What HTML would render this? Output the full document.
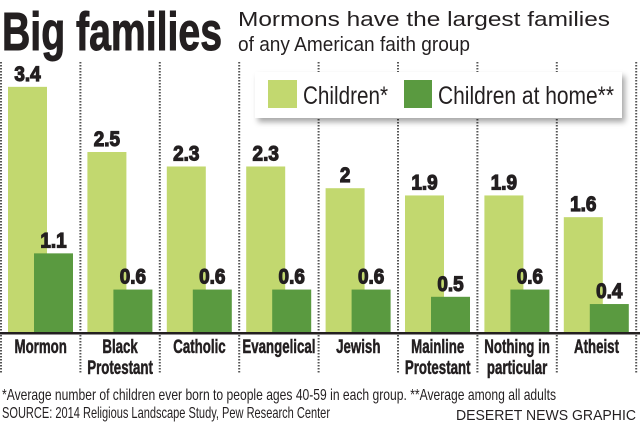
<!DOCTYPE html>
<html><head><meta charset="utf-8"><style>
html,body{margin:0;padding:0;background:#fff;width:640px;height:425px;overflow:hidden}
svg text{font-family:"Liberation Sans",sans-serif}
</style></head><body>
<svg id="chart" width="640" height="425" viewBox="0 0 640 425" xmlns="http://www.w3.org/2000/svg">
<defs><filter id="sh" x="-10%" y="-20%" width="130%" height="160%"><feDropShadow dx="3" dy="4" stdDeviation="3" flood-color="#000" flood-opacity="0.35"/></filter></defs>
<text x="2" y="50" font-size="54" font-weight="bold" fill="#231f20" stroke="#231f20" stroke-width="1" textLength="220" lengthAdjust="spacingAndGlyphs">Big families</text>
<text x="238" y="26" font-size="20" fill="#231f20" textLength="372" lengthAdjust="spacingAndGlyphs">Mormons have the largest families</text>
<text x="238" y="51" font-size="20" fill="#231f20" textLength="232" lengthAdjust="spacingAndGlyphs">of any American faith group</text>
<g id="grid"></g>
<g id="bars"></g>
<rect x="0" y="332" width="640" height="2.5" fill="#231f20"/>
<g>
<rect x="255" y="72" width="367" height="46" fill="#fff" filter="url(#sh)"/>
<rect x="268" y="80" width="29" height="28" fill="#c2d86f"/>
<text x="303" y="104" font-size="25" fill="#231f20" textLength="85" lengthAdjust="spacingAndGlyphs">Children*</text>
<rect x="404" y="80" width="28" height="28" fill="#5a9a40"/>
<text x="438" y="104" font-size="25" fill="#231f20" textLength="176" lengthAdjust="spacingAndGlyphs">Children at home**</text>
</g>
<text x="2" y="400" font-size="16" fill="#231f20" textLength="554" lengthAdjust="spacingAndGlyphs">*Average number of children ever born to people ages 40-59 in each group. **Average among all adults</text>
<text x="2" y="418" font-size="16" fill="#231f20" textLength="328" lengthAdjust="spacingAndGlyphs">SOURCE: 2014 Religious Landscape Study, Pew Research Center</text>
<text x="636" y="420" font-size="15" fill="#231f20" text-anchor="end" textLength="180" lengthAdjust="spacingAndGlyphs">DESERET NEWS GRAPHIC</text>
</svg>
<script>
const categories=[["Mormon"],["Black","Protestant"],["Catholic"],["Evangelical"],["Jewish"],["Mainline","Protestant"],["Nothing in","particular"],["Atheist"]];
const children=[3.4,2.5,2.3,2.3,2,1.9,1.9,1.6];
const atHome=[1.1,0.6,0.6,0.6,0.6,0.5,0.6,0.4];
const childrenLabels=["3.4","2.5","2.3","2.3","2","1.9","1.9","1.6"];
const atHomeLabels=["1.1","0.6","0.6","0.6","0.6","0.5","0.6","0.4"];
const NS="http://www.w3.org/2000/svg";
const base=333,unit=72.4,gw=79.4,x0=1;
function y(v){return base-v*unit;}
function gx(i){return x0+i*gw;}
function mk(t,a,p){const e=document.createElementNS(NS,t);for(const k in a)e.setAttribute(k,a[k]);p.appendChild(e);return e;}
function sx(t,cx,s){t.setAttribute('transform',`translate(${cx} 0) scale(${s} 1) translate(${-cx} 0)`);}
const grid=document.getElementById('grid'),bars=document.getElementById('bars');
for(let i=0;i<=categories.length;i++){
  const l=mk('line',{x1:gx(i),x2:gx(i),y1:62,y2:373,stroke:'#555','stroke-width':2,'stroke-dasharray':'1.5 1.5'},grid);
  
  
}
categories.forEach((c,i)=>{
  const g=gx(i);
  const r1=mk('rect',{x:g+7,y:y(children[i]),width:39,height:children[i]*unit,fill:'#c2d86f'},bars);
  
  
  const r2=mk('rect',{x:g+33,y:y(atHome[i]),width:39,height:atHome[i]*unit,fill:'#5a9a40'},bars);
  
  
  const t1=mk('text',{x:g+26.5,y:y(children[i])-6,'font-size':21,'font-weight':'bold','text-anchor':'middle',fill:'#231f20',stroke:'#231f20','stroke-width':1.2},bars);
  t1.textContent=childrenLabels[i];
  sx(t1,g+26.5,0.9);
  
  
  const t2=mk('text',{x:g+52.5,y:y(atHome[i])-6,'font-size':21,'font-weight':'bold','text-anchor':'middle',fill:'#231f20',stroke:'#231f20','stroke-width':1.2},bars);
  t2.textContent=atHomeLabels[i];
  sx(t2,g+52.5,0.9);
  
  
  c.forEach((line,j)=>{
    const t=mk('text',{x:g+gw/2,y:353+j*21,'font-size':19,'font-weight':'bold','text-anchor':'middle',fill:'#231f20',stroke:'#231f20','stroke-width':0.5},bars);
    t.textContent=line;
    sx(t,g+gw/2,0.7);
    
    
  });
});
</script>
</body></html>
